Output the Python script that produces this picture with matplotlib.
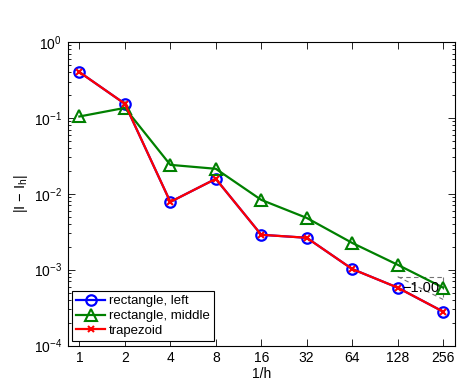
import matplotlib
matplotlib.use("Agg")
import matplotlib.pyplot as plt
from matplotlib.ticker import FixedLocator, FixedFormatter, LogLocator, NullLocator

plt.rcParams["font.family"] = ["Liberation Sans", "DejaVu Sans"]
plt.rcParams["mathtext.default"] = "regular"
plt.rcParams["font.size"] = 10

# data
inv_h = [1, 2, 4, 8, 16, 32, 64, 128, 256]
err_rect_left = [0.40, 0.153, 0.0078, 0.0157, 0.00288, 0.00263, 0.00102, 0.00058, 0.00028]
err_rect_mid = [0.104, 0.135, 0.024, 0.0213, 0.0083, 0.0048, 0.00225, 0.00116, 0.00058]
err_trap = [0.40, 0.153, 0.0078, 0.0157, 0.00288, 0.00263, 0.00102, 0.00058, 0.00028]
tick_labels = ["1", "2", "4", "8", "16", "32", "64", "128", "256"]

# slope marker (dashed triangle)
slope_x = [128, 256]
slope_y0 = 8.1e-4
slope_value = -1.0

fig = plt.figure(figsize=(4.74, 3.84), dpi=100)
ax = fig.add_axes([0.1425, 0.1, 0.8175, 0.791])

green = (0.0, 0.5, 0.0)
ax.plot(inv_h, err_rect_left, color="b", marker="o", markersize=7.5,
        markerfacecolor="none", markeredgewidth=1.6, linewidth=1.6,
        label="rectangle, left", zorder=3)
ax.plot(inv_h, err_rect_mid, color=green, marker="^", markersize=8,
        markerfacecolor="none", markeredgewidth=1.5, linewidth=1.6,
        label="rectangle, middle", zorder=3)
ax.plot(inv_h, err_trap, color="r", marker="x", markersize=5,
        markeredgewidth=1.5, linewidth=1.6, label="trapezoid", zorder=4)

# slope triangle
x0, x1 = slope_x
y1 = slope_y0 * (x1 / x0) ** slope_value
tri_kw = dict(color="0.45", linestyle=(0, (4, 3)), linewidth=0.8, zorder=2)
ax.plot([x0, x1], [slope_y0, slope_y0], **tri_kw)
ax.plot([x1, x1], [slope_y0, y1], **tri_kw)
ax.plot([x0, x1], [slope_y0, y1], **tri_kw)
ax.text((x0 * x1) ** 0.5, (slope_y0 * y1) ** 0.5, f"{slope_value:.2f}".replace("-", "\u2212"),
        ha="center", va="center", fontsize=10.5, zorder=5)

ax.set_xscale("log", base=2)
ax.set_yscale("log")
ax.set_xlim(0.835, 307)
ax.set_ylim(1e-4, 1)
ax.xaxis.set_major_locator(FixedLocator(inv_h))
ax.xaxis.set_major_formatter(FixedFormatter(tick_labels))
ax.xaxis.set_minor_locator(NullLocator())
ax.yaxis.set_major_locator(LogLocator(base=10, numticks=10))
ax.yaxis.set_minor_locator(LogLocator(base=10, subs=range(2, 10), numticks=10))

ax.tick_params(which="both", direction="in", top=True, right=True, width=0.6)
ax.tick_params(which="major", length=5, labelsize=10, pad=4)
ax.tick_params(which="minor", length=2.5)
for s in ax.spines.values():
    s.set_linewidth(0.8)

ax.set_xlabel("1/h", fontsize=10, labelpad=1)
ax.set_ylabel("|I \u2212 I$_h$|", fontsize=10.5, labelpad=3)

leg = ax.legend(loc="lower left", fontsize=9.5, handlelength=2.2,
                borderaxespad=0.35, labelspacing=0.2, handletextpad=0.3,
                borderpad=0.3, fancybox=False, framealpha=1)
leg.get_frame().set_edgecolor("black")
leg.get_frame().set_linewidth(0.8)

fig.savefig("out.png", dpi=100)
